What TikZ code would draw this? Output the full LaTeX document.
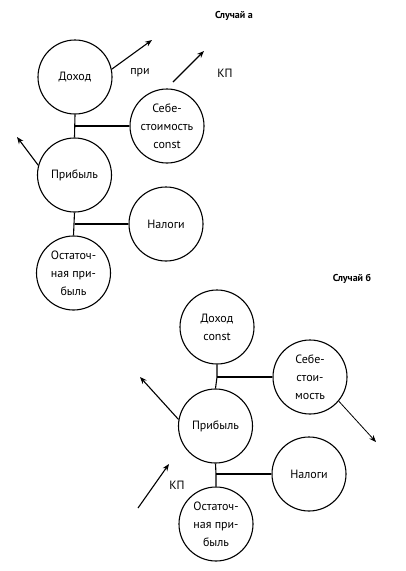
\documentclass[tikz,border=0pt]{standalone}
\usepackage{fontspec}
\setmainfont{PT Sans}
\usetikzlibrary{arrows.meta}
\begin{document}
\begin{tikzpicture}[x=1pt,y=-1pt,
  circ/.style={draw,circle,line width=1.1pt,minimum size=74pt,inner sep=0pt,align=center,font=\fontsize{12}{18}\selectfont},
  conn/.style={line width=1.1pt},
  arr/.style={line width=1.1pt,-{Stealth[length=7pt,width=5.5pt]}},
  thinarr/.style={line width=0.8pt,-{Stealth[length=7pt,width=5.5pt]}},
  lbl/.style={font=\fontsize{12}{14}\selectfont},
  title/.style={font=\bfseries\fontsize{10}{12}\selectfont}]
\useasboundingbox (0,0) rectangle (405,571);
% Case a
\node[title] (ta) at (234,16) {Случай а};
\node[circ] (a1) at (75,77) {Доход};
\node[circ] (a2) at (167,126) {Себе-\\стоимость\\const};
\node[circ] (a3) at (74.5,175) {Прибыль};
\node[circ] (a4) at (166,224) {Налоги};
\node[circ] (a5) at (73.5,273) {Остаточ-\\ная при-\\быль};
\coordinate (aj1) at (75,126);
\coordinate (aj2) at (74.5,224);
\draw[conn] (a1.south) -- (a3.north);
\draw[conn] (aj1) -- (a2.west);
\draw[conn] (a3.south) -- (a5.north);
\draw[conn] (aj2) -- (a4.west);
\coordinate (aa1) at (152,40);
\coordinate (ab0) at (173,82);
\coordinate (ab1) at (204,51);
\coordinate (ac1) at (17,137);
\draw[arr] (a1.12) -- (aa1);
\draw[arr] (ab0) -- (ab1);
\draw[arr] (a3.165) -- (ac1);
\node[lbl] (pri) at (140,73) {при};
\node[lbl] (kpa) at (225,73) {КП};
% Case b
\node[title] (tb) at (352,279) {Случай б};
\node[circ] (b1) at (217,327) {Доход\\const};
\node[circ] (b2) at (310,377) {Себе-\\стои-\\мость};
\node[circ] (b3) at (215.5,426) {Прибыль};
\node[circ] (b4) at (309,474) {Налоги};
\node[circ] (b5) at (216,524) {Остаточ-\\ная при-\\быль};
\coordinate (bj1) at (217,377);
\coordinate (bj2) at (216,474);
\draw[conn] (b1.south) -- (bj1) -- (b3.north);
\draw[conn] (bj1) -- (b2.west);
\draw[conn] (b3.south) -- (bj2) -- (b5.north);
\draw[conn] (bj2) -- (b4.west);
\coordinate (ba1) at (140,377);
\coordinate (bb1) at (376,442);
\coordinate (bc0) at (138,508);
\coordinate (bc1) at (169,464);
\draw[arr] (b3.170) -- (ba1);
\draw[thinarr] (b2.-40) -- (bb1);
\draw[arr] (bc0) -- (bc1);
\node[lbl] (kpb) at (177,485) {КП};
\end{tikzpicture}
\end{document}
